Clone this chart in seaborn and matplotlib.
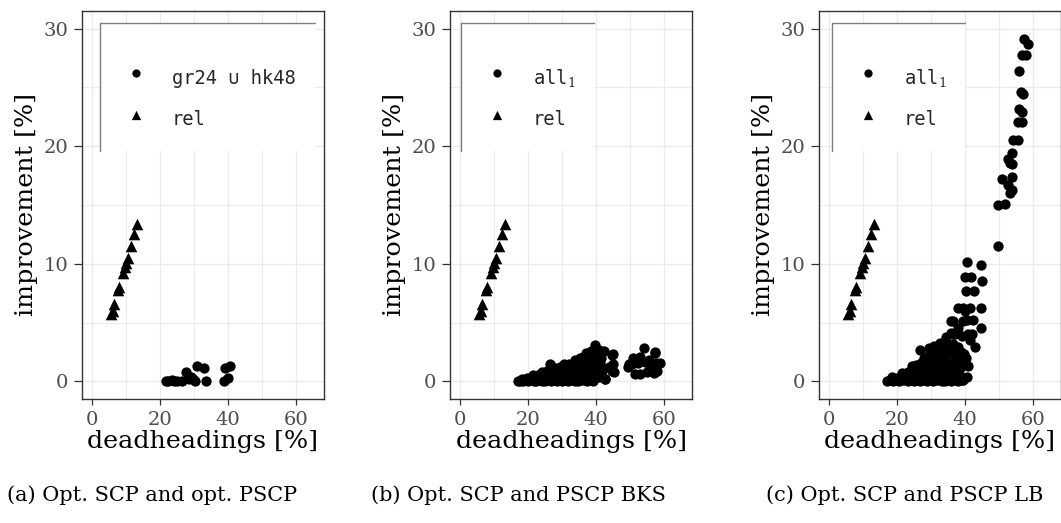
import matplotlib
matplotlib.use("Agg")
import matplotlib.pyplot as plt
from matplotlib.lines import Line2D
from matplotlib.ticker import MultipleLocator
import seaborn as sns
import pandas as pd

# ---------------- data ----------------
rel_x = [5.6, 6.1, 6.6, 7.7, 7.9, 9.1, 9.7, 10.0, 10.5, 11.6, 12.4, 13.3]
rel_y = [5.7, 6.0, 6.55, 7.8, 8.0, 9.2, 9.7, 10.1, 10.5, 11.5, 12.5, 13.4]

a_x = [21.7, 22.5, 23.5, 24.2, 25.0, 26.4, 27.6, 28.4, 29.0, 29.8, 30.3, 30.8,
       33.0, 33.4, 38.8, 39.1, 40.1, 40.6]
a_y = [0.0, 0.0, 0.15, 0.05, 0.0, 0.0, 0.8, 0.2, 0.35, 0.2, 0.0, 1.28,
       1.13, 0.0, 0.0, 1.16, 0.25, 1.28]

b_x = [17.0, 17.8, 18.5, 19.3, 20.1, 20.9, 21.7, 22.5, 23.3, 24.1, 25.0, 25.8, 26.7, 27.5,
       28.4, 29.2, 30.1, 31.0, 31.9, 32.8, 33.7, 34.6, 35.5, 36.4, 37.3, 38.2, 39.1,
       18.2, 19.6, 21.0, 22.3, 23.6, 24.8, 26.0, 27.2, 28.5, 29.7, 30.9, 32.1, 33.4, 34.6,
       35.8, 37.0, 38.3, 39.6, 41.0,
       21.5, 23.0, 24.4, 25.6, 26.9, 28.1, 29.3, 30.5, 31.8, 33.0, 34.2, 35.4, 36.7, 37.9,
       39.1, 40.4,
       24.0, 25.5, 27.0, 28.3, 29.6, 30.8, 32.0, 33.2, 34.4, 35.6, 36.8, 38.0, 39.2, 40.5, 41.8,
       26.4, 28.0, 29.5, 30.9, 32.3, 33.6, 34.9, 36.2, 37.4, 38.6, 39.8, 41.0,
       30.5, 32.0, 33.5, 34.8, 36.3, 37.5, 38.8, 40.0, 41.3,
       33.8, 35.2, 36.3, 37.8, 39.0, 40.3, 41.5,
       37.2, 38.5, 39.6, 40.8, 42.2, 42.5, 44.6, 44.9, 45.1, 44.6, 45.4, 42.5, 43.8,
       49.4, 49.6, 50.5, 51.0, 51.5, 52.3, 53.0, 53.0, 54.0, 54.5, 55.0, 55.5, 56.0, 56.9,
       57.2, 57.4, 57.6, 57.9, 58.9]
b_y = [0.02, 0.05, 0.0, 0.08, 0.03, 0.1, 0.05, 0.0, 0.12, 0.06, 0.02, 0.1, 0.04, 0.15,
       0.0, 0.08, 0.05, 0.12, 0.0, 0.1, 0.06, 0.03, 0.15, 0.08, 0.0, 0.1, 0.05,
       0.22, 0.3, 0.25, 0.35, 0.28, 0.4, 0.32, 0.38, 0.25, 0.42, 0.3, 0.36, 0.45, 0.28,
       0.4, 0.33, 0.45, 0.3, 0.35,
       0.5, 0.55, 0.62, 0.5, 0.7, 0.58, 0.65, 0.52, 0.72, 0.6, 0.68, 0.55, 0.75, 0.62,
       0.7, 0.58,
       0.82, 0.9, 0.85, 0.95, 0.88, 1.0, 0.9, 0.98, 0.85, 1.02, 0.92, 0.96, 0.88, 1.0, 0.9,
       1.45, 1.1, 1.2, 1.25, 1.15, 1.3, 1.2, 1.28, 1.12, 1.3, 1.22, 1.18,
       1.45, 1.5, 1.6, 1.55, 1.7, 1.5, 1.65, 1.55, 1.6,
       1.85, 1.95, 2.1, 1.9, 2.05, 2.2, 1.95,
       2.4, 2.6, 3.1, 2.7, 2.6, 0.2, 2.25, 2.3, 1.45, 0.85, 0.8, 0.17, 1.2,
       1.2, 1.5, 1.45, 2.0, 0.65, 1.6, 2.1, 0.65, 2.8, 1.67, 0.82, 1.8, 1.5, 0.75,
       2.5, 2.45, 1.6, 0.9, 1.6]

c_x = [17.0, 17.9, 18.8, 19.7, 20.6, 21.5, 22.4, 23.3, 24.2, 25.1, 26.0, 26.9, 27.8, 28.7,
       29.6, 30.5, 31.4, 32.3, 33.2, 34.1, 35.0, 36.0, 37.0, 38.0, 39.0,
       18.5, 20.0, 21.4, 22.8, 24.0, 25.3, 26.5, 27.7, 28.9, 30.1, 31.3, 32.5, 33.7, 34.9,
       36.1, 37.3,
       21.5, 23.2, 24.6, 26.0, 27.3, 28.6, 29.9, 31.1, 32.4, 33.6, 34.8, 36.0, 37.2, 38.4,
       24.3, 25.7, 27.0, 28.3, 29.6, 30.8, 32.0, 33.2, 34.4, 35.6, 36.8, 38.0, 38.5, 39.3,
       26.7, 28.0, 29.3, 30.5, 31.7, 32.9, 34.1, 35.3, 36.5, 37.6,
       29.5, 30.8, 32.0, 32.6, 33.5, 34.4, 35.5, 36.5, 37.8,
       34.5, 35.8, 36.0, 36.5, 37.0, 38.0, 39.0,
       38.0, 39.5, 39.6, 39.9, 40.0, 40.4, 40.6, 40.7, 40.7, 41.4, 41.9, 42.4, 42.6, 43.0,
       44.6, 44.8, 44.8, 45.0, 39.3, 40.8, 38.5, 39.4, 40.2, 41.5, 42.0, 36.6,
       37.5, 38.8, 39.8, 41.0, 38.2,
       49.6, 49.6, 51.0, 51.8, 52.5, 52.7, 53.2, 53.2, 53.7, 53.7, 53.9, 53.9, 54.2, 55.5,
       55.7, 56.6, 55.9, 56.6, 56.5, 57.1, 55.9, 56.8, 58.0, 57.4, 58.5]
c_y = [0.05, 0.1, 0.0, 0.15, 0.05, 0.08, 0.12, 0.0, 0.1, 0.05, 0.15, 0.02, 0.1, 0.06,
       0.12, 0.0, 0.08, 0.1, 0.05, 0.0, 0.12, 0.06, 0.1, 0.03, 0.08,
       0.35, 0.3, 0.45, 0.4, 0.55, 0.38, 0.5, 0.45, 0.6, 0.4, 0.55, 0.48, 0.35, 0.6,
       0.42, 0.5,
       0.7, 0.8, 0.95, 0.85, 1.05, 0.9, 1.1, 0.95, 1.0, 1.15, 0.9, 1.05, 0.95, 1.1,
       1.3, 1.4, 1.55, 1.5, 1.6, 1.45, 1.7, 1.55, 1.65, 1.5, 1.75, 1.6, 1.65, 1.45,
       2.7, 2.0, 2.2, 2.35, 2.1, 2.4, 2.25, 2.5, 2.3, 2.45,
       2.8, 3.0, 2.9, 3.3, 3.1, 3.3, 3.0, 3.2, 2.9,
       3.8, 4.1, 5.1, 4.05, 4.05, 4.5, 3.9,
       6.2, 6.2, 0.25, 6.0, 8.9, 7.7, 0.4, 10.15, 5.2, 6.2, 8.9, 5.2, 7.7, 2.9,
       4.5, 9.9, 6.2, 8.5, 5.1, 4.05, 1.65, 0.1, 2.0, 3.5, 4.0, 5.1,
       1.0, 2.5, 2.3, 1.3, 0.6,
       11.5, 15.0, 17.25, 15.06, 18.95, 16.7, 18.6, 16.0, 18.5, 16.3, 19.4, 17.4, 20.5, 20.5,
       22.1, 22.1, 23.2, 22.9, 24.6, 24.4, 26.4, 27.8, 27.8, 29.1, 28.7]

panel_labels = ["gr24 \u222a hk48", "all$_1$", "all$_1$"]
captions = ["(a) Opt. SCP and opt. PSCP", "(b) Opt. SCP and PSCP BKS",
            "(c) Opt. SCP and PSCP LB"]
x_ticks = [0, 20, 40, 60]
y_ticks = [0, 10, 20, 30]
x_label = "deadheadings [%]"
y_label = "improvement [%]"

# ---------------- style ----------------
sns.set_theme(style="white")
plt.rcParams["font.family"] = ["DejaVu Serif"]
plt.rcParams["mathtext.fontset"] = "dejavuserif"

W, H = 1061, 523
fig = plt.figure(figsize=(W / 100, H / 100), dpi=100)

ax_lefts = [82, 450, 819]
ax_w = 242
ax_top, ax_bot = 11, 399
leg_lefts = [100, 461, 832]
cap_x = [152, 518, 905]
FS_LEG = 13.5

series = [(a_x, a_y), (b_x, b_y), (c_x, c_y)]

legs = []
for i in range(3):
    ax = fig.add_axes([ax_lefts[i] / W, 1 - ax_bot / H, ax_w / W, (ax_bot - ax_top) / H])
    sx, sy = series[i]
    df_pts = pd.DataFrame({"x": sx, "y": sy})
    df_rel = pd.DataFrame({"x": rel_x, "y": rel_y})
    sns.scatterplot(data=df_pts, x="x", y="y", ax=ax, color="black", marker="o",
                    s=55, linewidth=0, label=panel_labels[i], zorder=3)
    sns.scatterplot(data=df_rel, x="x", y="y", ax=ax, color="black", marker="^",
                    s=70, linewidth=0, label="rel", zorder=3)
    ax.set_xlim(-2.9, 68.2)
    ax.set_ylim(-1.5, 31.5)
    ax.set_xticks(x_ticks)
    ax.set_yticks(y_ticks)
    ax.xaxis.set_minor_locator(MultipleLocator(10))
    ax.yaxis.set_minor_locator(MultipleLocator(5))
    ax.grid(True, which="major", color="#ebebeb", lw=1.0, zorder=0)
    ax.grid(True, which="minor", color="#ebebeb", lw=0.8, zorder=0)
    ax.set_axisbelow(True)
    for sp in ax.spines.values():
        sp.set_color("#333333")
        sp.set_linewidth(1.0)
    ax.tick_params(axis="both", which="major", width=0.9, color="#333333",
                   labelsize=14, labelcolor="#4d4d4d", bottom=True, left=True)
    ax.tick_params(axis="y", which="major", length=5.5, pad=4.5)
    ax.tick_params(axis="x", which="major", length=4.5, pad=4)
    ax.tick_params(axis="both", which="minor", length=0)
    ax.set_xlabel(x_label, fontsize=18.3, color="black", labelpad=1.0)
    ax.set_ylabel(y_label, fontsize=18.3, color="black", labelpad=3.5)

    leg = ax.legend(loc="upper left",
                    bbox_to_anchor=((leg_lefts[i] - ax_lefts[i]) / ax_w,
                                    1 - 12 / (ax_bot - ax_top)),
                    title=" ", title_fontsize=6,
                    prop={"family": ["DejaVu Sans Mono", "DejaVu Sans"], "size": FS_LEG},
                    frameon=True, fancybox=False, borderpad=1.0, handlelength=1.84,
                    handleheight=1.84, handletextpad=1.0, labelspacing=0.76,
                    borderaxespad=0, markerscale=0.8)
    leg.get_frame().set_facecolor("white")
    leg.get_frame().set_edgecolor("none")
    leg.get_frame().set_alpha(1.0)
    legs.append(leg)

    fig.text(cap_x[i] / W, 1 - 495 / H, captions[i], ha="center", va="center",
             fontsize=15, color="black")

fig.canvas.draw()
renderer = fig.canvas.get_renderer()
inv = fig.transFigure.inverted()
for leg in legs:
    bb = leg.get_frame().get_window_extent(renderer)
    (x0, y0), (x1, y1) = inv.transform([[bb.x0, bb.y0], [bb.x1, bb.y1]])
    fig.add_artist(Line2D([x0, x1], [y1, y1], transform=fig.transFigure,
                          color="#7f7f7f", lw=1.0, zorder=10))
    fig.add_artist(Line2D([x0, x0], [y0, y1], transform=fig.transFigure,
                          color="#7f7f7f", lw=1.0, zorder=10))

fig.savefig("out.png", dpi=100)
